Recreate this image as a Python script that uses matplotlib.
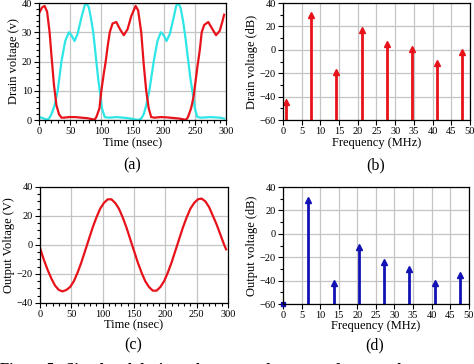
import numpy as np
import matplotlib
matplotlib.use("Agg")
import matplotlib.pyplot as plt
from matplotlib.ticker import MultipleLocator

plt.rcParams['font.family'] = ['Liberation Serif', 'DejaVu Serif']

# (a) drain voltages
t_red = [0, 5, 9, 13, 17, 20, 24, 28, 32, 36, 40, 48, 58, 68, 78, 85, 89, 92, 97, 100, 104, 107, 110, 113.5,
         118, 124, 130, 136, 142, 148, 155, 159, 164, 168, 172, 176, 180, 185, 195, 205, 215, 225, 232, 236,
         239, 244, 248, 251, 254, 258, 261, 265, 271.5, 277, 284, 290, 294, 297]
v_red = [36.5, 38.5, 39, 37, 30, 22, 12, 5, 2, 0.8, 0.8, 1, 1, 0.8, 0.6, 0.3, 0.1, 1, 4, 10, 16, 20, 25, 30,
         33, 33.5, 31, 29, 31, 35.5, 39, 37.5, 30, 19, 10, 4, 1, 0.8, 1, 0.9, 0.7, 0.5, 0.2, 0.1,
         1, 4, 8, 13, 18, 24, 30, 32.5, 33.5, 31.5, 29, 30.5, 33.5, 36]

t_cyan = [0, 4, 8, 12, 16, 20, 25, 30, 36, 42, 48, 52, 57, 62, 68, 73, 76, 80, 84, 87, 91, 95, 97.5, 101,
          105.5, 112, 125, 140, 150, 159, 164, 168, 172, 177, 184, 190, 195.5, 200, 204.6, 210, 216, 220, 223,
          227, 231, 235, 239, 243, 246, 250, 254, 260, 275, 290, 297]
v_cyan = [1, 0.8, 0.5, 0.1, 0.5, 2, 5, 10, 20, 27, 30, 29, 27, 29.5, 35, 39, 40, 38.5, 34, 30, 22, 14, 10, 4,
          1, 0.8, 1, 0.7, 0.4, 0, 0.5, 2, 5, 10, 20, 27, 30, 29, 27, 29.5, 35, 39, 40,
          38.5, 34, 28, 21, 14, 10, 4, 1, 0.8, 1, 0.8, 0.5]

# (b) drain voltage spectrum
f_b = [0.8, 7.5, 14.3, 21.0, 27.8, 34.6, 41.3, 48.0]
db_b = [-45, 30, -19, 17, 5, 1, -11, -2]

# (c) output voltage
t_out = [0, 6, 12, 18, 24, 30, 36, 42, 48, 54, 60, 66, 72, 78, 84, 90, 96, 102, 108, 114, 120, 126, 132,
         138, 144, 150, 156, 162, 168, 174, 180, 186, 192, 198, 204, 210, 216, 222, 228, 234, 240, 246,
         252, 258, 264, 270, 276, 282, 288, 294, 297]
v_out = [-2, -10, -17, -23, -28, -31, -32, -31, -29, -25, -19, -12, -4, 4, 12, 19, 25, 29, 31.5, 31.5, 29,
         25, 19, 12, 4, -4, -12, -19, -25, -29, -31.5, -31.5, -29, -25, -19, -12, -4, 4, 12, 19, 25, 29,
         31.5, 32, 30, 26, 20, 14, 7, 0, -3]

# (d) output voltage spectrum
f_d = [0, 6.8, 13.6, 20.4, 27.2, 34.0, 40.8, 47.6]
db_d = [-60, 29, -42, -11, -24, -30, -42, -35]

RED = '#e8121a'
CYAN = '#2ee6e6'
BLUE = '#1212b4'

fig = plt.figure(figsize=(4.74, 3.64), dpi=100)
ax_a = fig.add_axes([0.0823, 0.6703, 0.3945, 0.3214])
ax_b = fig.add_axes([0.597, 0.6703, 0.3945, 0.3214])
ax_c = fig.add_axes([0.0844, 0.1676, 0.3966, 0.3187])
ax_d = fig.add_axes([0.597, 0.1648, 0.392, 0.3214])


def style(ax, xmaj, xmin, ymaj, ymin):
    ax.xaxis.set_major_locator(MultipleLocator(xmaj))
    ax.yaxis.set_major_locator(MultipleLocator(ymaj))
    if xmin:
        ax.xaxis.set_minor_locator(MultipleLocator(xmin))
    if ymin:
        ax.yaxis.set_minor_locator(MultipleLocator(ymin))
    ax.grid(True, which='major', color='#c4c4c4', lw=0.9)
    ax.set_axisbelow(True)
    ax.tick_params(which='both', direction='out', labelsize=7.5, pad=1.5, width=0.8)
    ax.tick_params(which='major', length=3.5)
    ax.tick_params(which='minor', length=2)
    ax.tick_params(top=False, right=False)
    for s in ax.spines.values():
        s.set_linewidth(0.9)


ax_a.plot(t_cyan, v_cyan, color=CYAN, lw=1.6)
ax_a.plot(t_red, v_red, color=RED, lw=1.6)
ax_a.set_xlim(0, 300)
ax_a.set_ylim(0, 40)
style(ax_a, 50, 10, 10, 2)
ax_a.set_xlabel('Time (nsec)', fontsize=9, labelpad=1)
ax_a.set_ylabel('Drain voltage (v)', fontsize=9, labelpad=1)

ax_b.vlines(f_b, -60, db_b, color=RED, lw=2)
ax_b.plot(f_b, db_b, '^', color=RED, ms=5, clip_on=False)
ax_b.set_xlim(0, 50)
ax_b.set_ylim(-60, 40)
style(ax_b, 5, None, 20, 10)
ax_b.set_xlabel('Frequency (MHz)', fontsize=9, labelpad=1)
ax_b.set_ylabel('Drain voltage (dB)', fontsize=9, labelpad=1)

ax_c.plot(t_out, v_out, color=RED, lw=1.6)
ax_c.set_xlim(0, 300)
ax_c.set_ylim(-40, 40)
style(ax_c, 50, 10, 20, 5)
ax_c.set_xlabel('Time (nsec)', fontsize=9, labelpad=0)
ax_c.set_ylabel('Output Voltage (V)', fontsize=9, labelpad=1)

ax_d.vlines(f_d[1:], -60, db_d[1:], color=BLUE, lw=2)
ax_d.plot(f_d[1:], db_d[1:], '^', color=BLUE, ms=5)
ax_d.plot(f_d[:1], db_d[:1], 's', color=BLUE, ms=3.5, clip_on=False)
ax_d.set_xlim(0, 50)
ax_d.set_ylim(-60, 40)
style(ax_d, 5, None, 20, 10)
ax_d.set_xlabel('Frequency (MHz)', fontsize=9, labelpad=0)
ax_d.set_ylabel('Output voltage (dB)', fontsize=9, labelpad=1)

fig.text(0.279, 0.547, '(a)', ha='center', va='center', fontsize=11.5)
fig.text(0.793, 0.547, '(b)', ha='center', va='center', fontsize=11.5)
fig.text(0.281, 0.052, '(c)', ha='center', va='center', fontsize=11.5)
fig.text(0.791, 0.052, '(d)', ha='center', va='center', fontsize=11.5)
# caption of the source figure, mostly cut off by the lower edge
fig.text(0.0, -0.026, 'Figure 5.  Simulated drain and output voltage waveforms and spectra',
         ha='left', va='baseline', fontsize=11, fontweight='bold')

fig.savefig('out.png', dpi=100)
